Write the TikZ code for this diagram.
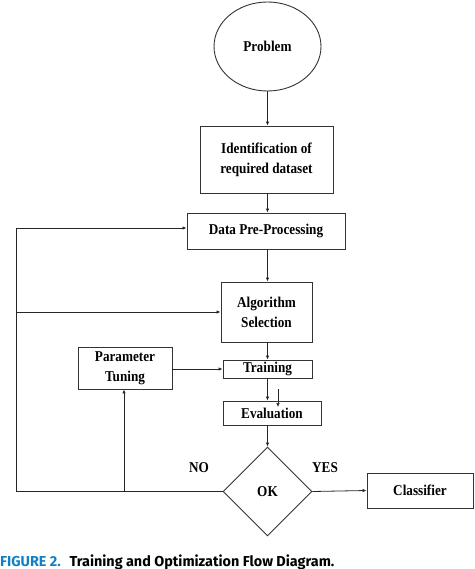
\documentclass[tikz,border=0pt]{standalone}
\usepackage{fontspec}
\setmainfont{Liberation Serif}[FakeStretch=0.88]
\newfontfamily\capfont{Fira Sans}
\usetikzlibrary{shapes.geometric,arrows.meta}
\definecolor{capblue}{RGB}{18,128,196}
\tikzset{
  flowline/.style={draw=black!85,line width=0.8pt,-{Latex[length=4pt,width=3.5pt]}},
  flowbox/.style={draw=black!80,line width=0.9pt,rectangle,inner sep=0pt,align=center,font=\fontsize{15}{20}\selectfont\bfseries},
  flowtext/.style={inner sep=0pt,font=\fontsize{15}{20}\selectfont\bfseries}
}
\begin{document}
\begin{tikzpicture}[x=1pt,y=-1pt]
%\draw[step=50,gray,very thin] (0,0) grid (474,569);
\useasboundingbox (0,0) rectangle (474,569);
\node[flowbox,ellipse,minimum width=107,minimum height=89] (prob) at (267.5,46.5) {Problem};
\node[flowbox,minimum width=133,minimum height=67] (ident) at (266.5,159.5) {Identification of\\required dataset};
\node[flowbox,minimum width=158,minimum height=36] (prep) at (266,231) {Data Pre-Processing};
\node[flowbox,minimum width=91,minimum height=60] (algo) at (266.5,312) {Algorithm\\Selection};
\node[flowbox,minimum width=94,minimum height=42] (param) at (125,368) {Parameter\\Tuning};
\node[flowbox,minimum width=89,minimum height=18] (train) at (267.5,369) {Training};
\node[flowbox,minimum width=98,minimum height=24] (eval) at (272,413) {Evaluation};
\node[flowbox,diamond,aspect=1,minimum size=89] (ok) at (267.5,491.5) {OK};
\node[flowbox,minimum width=106,minimum height=35] (cls) at (420,490.5) {Classifier};

\node[flowtext] (no) at (199,468) {NO};
\node[flowtext] (yes) at (325,468) {YES};

\coordinate (loopbot) at (16,491.5);
\coordinate (looptop) at (16,228);
\coordinate (loopmid) at (16,312);
\coordinate (tunebot) at (124,491.5);
\coordinate (straytop) at (278,389);
\coordinate (straybot) at (278,407);

\draw[flowline] (prob.south) -- (prob.south |- ident.north);
\draw[flowline] (ident.south -| prob.south) -- (prob.south |- prep.north);
\draw[flowline] (prep.south -| prob.south) -- (prob.south |- algo.north);
\draw[flowline] (algo.south -| prob.south) -- (prob.south |- train.north);
\draw[flowline] (train.south -| prob.south) -- (prob.south |- eval.north);
\draw[flowline] (eval.south -| ok.north) -- (ok.north);
\draw[flowline] (param.east |- train.west) -- (train.west);
\draw[flowline] (ok.east) -- (cls.west);
\draw[flowline] (ok.west) -- (loopbot) -- (looptop) -- (looptop -| prep.west);
\draw[flowline] (loopmid) -- (algo.west);
\draw[flowline] (tunebot) -- (tunebot |- param.south);
\draw[flowline,line width=0.5pt] (straytop) -- (straybot);

\node[anchor=base west,inner sep=0pt,font=\capfont\fontsize{14.4}{17}\selectfont\bfseries] (cap) at (0,566)
  {\textcolor{capblue}{FIGURE 2.}\hspace{0.6em}Training and Optimization Flow Diagram.};
\end{tikzpicture}
\end{document}
